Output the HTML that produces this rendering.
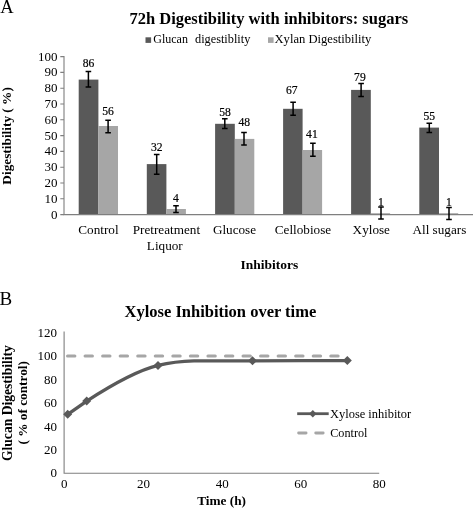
<!DOCTYPE html>
<html><head><meta charset="utf-8"><title>Figure</title>
<style>
html,body{margin:0;padding:0;background:#fff;}
svg{display:block;font-family:"Liberation Serif",serif;fill:#000;}
.b{font-weight:bold;}
.ax{stroke:#7f7f7f;stroke-width:1.1;fill:none;}
.eb{stroke:#000;stroke-width:1.5;fill:none;}
</style></head><body>
<svg width="473" height="508" viewBox="0 0 473 508">
<rect width="473" height="508" fill="#fff"/>
<!-- Panel A -->
<text x="0.300" y="13.200" font-size="18.500">A</text>
<text x="268.800" y="24.400" font-size="16.500" class="b" text-anchor="middle">72h Digestibility with inhibitors: sugars</text>
<rect x="145.500" y="37.300" width="5.600" height="5.600" fill="#595959"/>
<text x="153.300" y="43.400" font-size="12">Glucan</text>
<text x="195" y="43.400" font-size="12.300">digestiblity</text>
<rect x="268" y="37.300" width="5.600" height="5.600" fill="#a6a6a6"/>
<text x="274.500" y="43.400" font-size="12.600">Xylan Digestibility</text>
<text transform="translate(10.600,135.900) rotate(-90)" font-size="13.300" class="b" text-anchor="middle">Digestibility ( %)</text>
<g font-size="13" text-anchor="end">
<text x="57.400" y="60.600">100</text><text x="57.400" y="76.400">90</text><text x="57.400" y="92.200">80</text><text x="57.400" y="108">70</text><text x="57.400" y="123.800">60</text><text x="57.400" y="139.600">50</text><text x="57.400" y="155.400">40</text><text x="57.400" y="171.200">30</text><text x="57.400" y="187">20</text><text x="57.400" y="202.800">10</text><text x="57.400" y="218.600">0</text>
</g>
<!-- bars -->
<g fill="#595959">
<rect x="78.700" y="79.600" width="19.700" height="135"/>
<rect x="146.800" y="164.100" width="19.600" height="50.500"/>
<rect x="215.100" y="123.800" width="19.700" height="91"/>
<rect x="283.100" y="108.800" width="19.500" height="106"/>
<rect x="351.100" y="89.900" width="19.700" height="125"/>
<rect x="419.300" y="127.600" width="19.700" height="87"/>
</g>
<g fill="#a6a6a6">
<rect x="98.400" y="126" width="19.600" height="88.500"/>
<rect x="166.400" y="209" width="19.500" height="5.500"/>
<rect x="234.800" y="138.900" width="19.500" height="75.800"/>
<rect x="302.600" y="150" width="19.500" height="64.700"/>
<rect x="370.800" y="213.200" width="19.300" height="1.500"/>
<rect x="439" y="213.200" width="19.200" height="1.500"/>
</g>
<!-- axes -->
<path class="ax" d="M64 56V214.600H473"/>
<path class="ax" d="M60.300 56.600H64M60.300 72.400H64M60.300 88.200H64M60.300 104H64M60.300 119.800H64M60.300 135.600H64M60.300 151.400H64M60.300 167.200H64M60.300 183H64M60.300 198.800H64M60.300 214.600H64"/>
<!-- error bars -->
<g class="eb">
<path d="M88.400 71.400V87.100M85.600 71.400H91.200M85.600 87.100H91.200"/>
<path d="M108.100 120.200V132.700M105.300 120.200H110.900M105.300 132.700H110.900"/>
<path d="M156.700 154.500V174.200M153.900 154.500H159.500M153.900 174.200H159.500"/>
<path d="M176 205.800V212.400M173.200 205.800H178.800M173.200 212.400H178.800"/>
<path d="M224.800 118.700V128.500M222 118.700H227.600M222 128.500H227.600"/>
<path d="M244 132.400V144.900M241.200 132.400H246.800M241.200 144.900H246.800"/>
<path d="M293.100 102.300V115.300M290.300 102.300H295.900M290.300 115.300H295.900"/>
<path d="M312.900 143.300V156.200M310.100 143.300H315.700M310.100 156.200H315.700"/>
<path d="M361.100 83.400V96.400M358.300 83.400H363.900M358.300 96.400H363.900"/>
<path d="M381 206.900V218.900M378.200 206.900H383.800M378.200 218.900H383.800"/>
<path d="M429.300 123.300V132.500M426.500 123.300H432.100M426.500 132.500H432.100"/>
<path d="M449 207.500V219.500M446.200 207.500H451.800M446.200 219.500H451.800"/>
</g>
<!-- data labels -->
<g font-size="11.600" text-anchor="middle" stroke="#000" stroke-width="0.200">
<text x="88.600" y="66.600">86</text><text x="108" y="114.800">56</text>
<text x="156.700" y="150.600">32</text><text x="175.800" y="202">4</text>
<text x="225" y="115.700">58</text><text x="244.300" y="126.300">48</text>
<text x="291.800" y="93.800">67</text><text x="311.900" y="137.800">41</text>
<text x="359.900" y="80.700">79</text><text x="380.800" y="206">1</text>
<text x="429.300" y="120.400">55</text><text x="448.800" y="206">1</text>
</g>
<!-- categories -->
<g font-size="13.200" text-anchor="middle">
<text x="98.400" y="234.200">Control</text>
<text x="166.400" y="234.200">Pretreatment</text>
<text x="164.800" y="250.400">Liquor</text>
<text x="234.500" y="234.200">Glucose</text>
<text x="303" y="234.200">Cellobiose</text>
<text x="371.300" y="234.200">Xylose</text>
<text x="439.400" y="234.200">All sugars</text>
</g>
<text x="269.300" y="268.500" font-size="13.500" class="b" text-anchor="middle">Inhibitors</text>

<!-- Panel B -->
<text x="-0.600" y="305.100" font-size="19">B</text>
<text x="220.400" y="316.600" font-size="16.500" class="b" text-anchor="middle">Xylose Inhibition over time</text>
<text transform="translate(11.800,403.100) rotate(-90)" font-size="13.600" class="b" text-anchor="middle">Glucan Digestibility</text>
<text transform="translate(27.200,402.800) rotate(-90)" font-size="13.300" class="b" text-anchor="middle">( % of control)</text>
<g font-size="13" text-anchor="end">
<text x="57.100" y="336.600">120</text><text x="57.100" y="360.100">100</text><text x="57.100" y="383.600">80</text><text x="57.100" y="407.100">60</text><text x="57.100" y="430.600">40</text><text x="57.100" y="454">20</text><text x="57.100" y="477.300">0</text>
</g>
<g font-size="13" text-anchor="middle">
<text x="64.200" y="487.700">0</text><text x="143.500" y="487.700">20</text><text x="222.200" y="487.700">40</text><text x="300.800" y="487.700">60</text><text x="379.200" y="487.700">80</text>
</g>
<text x="221.600" y="504.600" font-size="13.300" class="b" text-anchor="middle">Time (h)</text>
<path class="ax" d="M64.100 331.400V473.200H379.200"/>
<path d="M67.500 356.100H341" stroke="#a6a6a6" stroke-width="3" stroke-dasharray="7.400 10.150" stroke-linecap="round" fill="none"/>
<path d="M67.700 414.300 C74 410,80.500 405.500,86.700 401.100 C110 386,135 371,158 365.400 C170 362.500,182 361.200,194 360.900 C215 360.700,235 360.800,252.500 360.800 C285 360.700,315 360.600,347.300 360.600" stroke="#595959" stroke-width="3.300" fill="none" stroke-linecap="round"/>
<g fill="#595959">
<path d="M67.700 409.8l4.500 4.500l-4.500 4.500l-4.500-4.500z"/><path d="M86.700 396.6l4.500 4.500l-4.500 4.500l-4.500-4.500z"/><path d="M158 360.9l4.500 4.500l-4.500 4.500l-4.500-4.500z"/><path d="M252.500 356.3l4.500 4.500l-4.500 4.500l-4.500-4.500z"/><path d="M347.300 356.1l4.500 4.500l-4.500 4.500l-4.500-4.500z"/>
</g>
<!-- legend B -->
<path d="M297.200 413.700H328.700" stroke="#595959" stroke-width="2.800"/>
<path d="M312.800 410l3.700 3.700l-3.700 3.700l-3.700-3.700z" fill="#595959"/>
<text x="330" y="417.800" font-size="12.450">Xylose inhibitor</text>
<path d="M298.600 433H328" stroke="#a6a6a6" stroke-width="2.800" stroke-dasharray="7.500 9.600" stroke-linecap="round"/>
<text x="330.200" y="437.100" font-size="12.200">Control</text>
</svg>
</body></html>
